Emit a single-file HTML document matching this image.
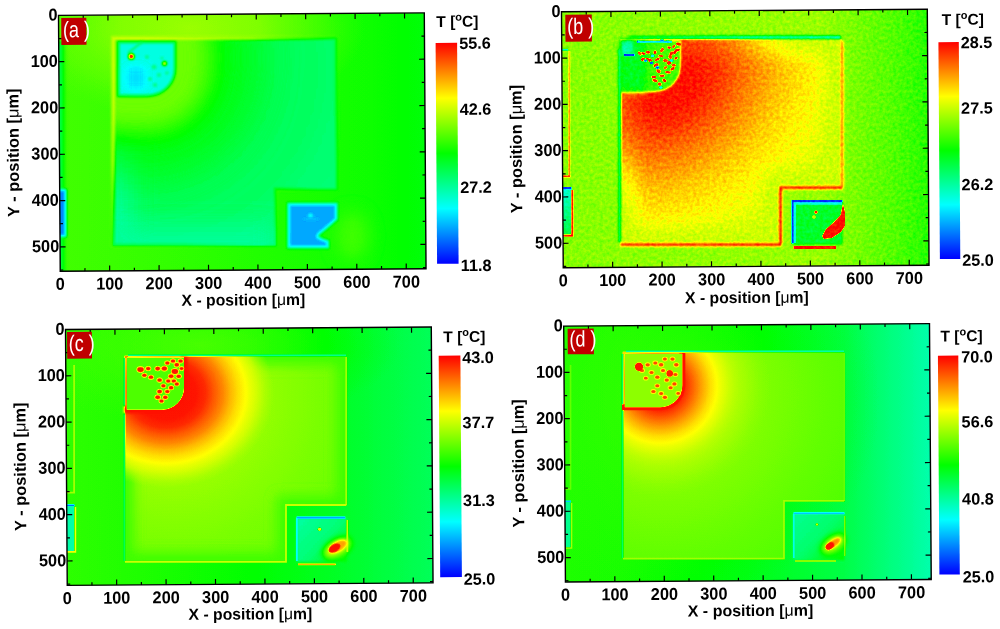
<!DOCTYPE html>
<html><head><meta charset="utf-8"><title>Thermal maps</title><style>
html,body{margin:0;padding:0;background:#fff;}
body{width:1000px;height:629px;overflow:hidden;position:relative;}
svg.main{position:absolute;left:0;top:0;}
.tl{font-family:"Liberation Sans",Arial,sans-serif;font-weight:bold;font-size:17px;fill:#000;}
.at{font-family:"Liberation Sans",Arial,sans-serif;font-weight:bold;font-size:16px;fill:#000;}
.at2{font-family:"Liberation Sans",Arial,sans-serif;font-weight:bold;font-size:16.4px;fill:#000;}
.ct{font-family:"Liberation Sans",Arial,sans-serif;font-weight:bold;font-size:15.6px;fill:#000;}
.sup{font-size:11px;}
.cl{font-family:"Liberation Sans",Arial,sans-serif;font-weight:bold;font-size:16.3px;fill:#000;}
.pl{font-family:"Liberation Sans",Arial,sans-serif;font-weight:normal;font-size:22.5px;fill:#fff;}
</style></head>
<body><svg class="main" width="1000" height="629" viewBox="0 0 1000 629">
<defs><filter id="bl06" filterUnits="userSpaceOnUse" x="0" y="0" width="1000" height="629"><feGaussianBlur stdDeviation="0.6"/></filter>
<filter id="bl08" filterUnits="userSpaceOnUse" x="0" y="0" width="1000" height="629"><feGaussianBlur stdDeviation="0.8"/></filter>
<filter id="bl1" filterUnits="userSpaceOnUse" x="0" y="0" width="1000" height="629"><feGaussianBlur stdDeviation="1.2"/></filter>
<filter id="bl2" filterUnits="userSpaceOnUse" x="0" y="0" width="1000" height="629"><feGaussianBlur stdDeviation="2.2"/></filter>
<filter id="bl3" filterUnits="userSpaceOnUse" x="0" y="0" width="1000" height="629"><feGaussianBlur stdDeviation="3.0"/></filter>
<filter id="bl4" filterUnits="userSpaceOnUse" x="0" y="0" width="1000" height="629"><feGaussianBlur stdDeviation="4.0"/></filter>
<filter id="bl6" filterUnits="userSpaceOnUse" x="0" y="0" width="1000" height="629"><feGaussianBlur stdDeviation="6.0"/></filter>
<filter id="bl8" filterUnits="userSpaceOnUse" x="0" y="0" width="1000" height="629"><feGaussianBlur stdDeviation="8.0"/></filter>
<filter id="bl12" filterUnits="userSpaceOnUse" x="0" y="0" width="1000" height="629"><feGaussianBlur stdDeviation="12.0"/></filter>
<filter id="bl18" filterUnits="userSpaceOnUse" x="0" y="0" width="1000" height="629"><feGaussianBlur stdDeviation="18.0"/></filter>
<filter id="bl25" filterUnits="userSpaceOnUse" x="0" y="0" width="1000" height="629"><feGaussianBlur stdDeviation="25.0"/></filter>
<filter id="cmap" filterUnits="userSpaceOnUse" x="0" y="0" width="1000" height="629" color-interpolation-filters="sRGB"><feComponentTransfer><feFuncR type="table" tableValues="0 0 0 1 1"/><feFuncG type="table" tableValues="0 1 1 1 0"/><feFuncB type="table" tableValues="1 1 0 0 0"/></feComponentTransfer></filter>
<filter id="cmapn" filterUnits="userSpaceOnUse" x="0" y="0" width="1000" height="629" color-interpolation-filters="sRGB"><feTurbulence type="fractalNoise" baseFrequency="0.3" numOctaves="2" seed="5" result="n"/><feColorMatrix in="n" type="matrix" values="1 0 0 0 0 1 0 0 0 0 1 0 0 0 0 0 0 0 0 1" result="ng"/><feComposite in="SourceGraphic" in2="ng" operator="arithmetic" k1="0" k2="1" k3="0.12" k4="-0.06" result="s"/><feComponentTransfer><feFuncR type="table" tableValues="0 0 0 1 1"/><feFuncG type="table" tableValues="0 1 1 1 0"/><feFuncB type="table" tableValues="1 1 0 0 0"/></feComponentTransfer></filter>
<linearGradient id="cbg" x1="0" y1="0" x2="0" y2="1"><stop offset="0.000" stop-color="#ff0000"/><stop offset="0.050" stop-color="#ff3300"/><stop offset="0.100" stop-color="#ff6600"/><stop offset="0.150" stop-color="#ff9900"/><stop offset="0.200" stop-color="#ffcc00"/><stop offset="0.250" stop-color="#ffff00"/><stop offset="0.300" stop-color="#ccff00"/><stop offset="0.350" stop-color="#99ff00"/><stop offset="0.400" stop-color="#66ff00"/><stop offset="0.450" stop-color="#33ff00"/><stop offset="0.500" stop-color="#00ff00"/><stop offset="0.550" stop-color="#00ff33"/><stop offset="0.600" stop-color="#00ff66"/><stop offset="0.650" stop-color="#00ff99"/><stop offset="0.700" stop-color="#00ffcc"/><stop offset="0.750" stop-color="#00ffff"/><stop offset="0.800" stop-color="#00ccff"/><stop offset="0.850" stop-color="#0099ff"/><stop offset="0.900" stop-color="#0066ff"/><stop offset="0.950" stop-color="#0033ff"/><stop offset="1.000" stop-color="#0000ff"/></linearGradient></defs>
<clipPath id="clip_a"><polygon points="58.50,15.40 424.29,12.91 426.03,268.81 60.24,271.29"/></clipPath>
<g clip-path="url(#clip_a)"><g filter="url(#cmap)"><clipPath id="a_clip"><polygon points="113.10,38.00 336.50,38.00 336.50,189.30 275.70,189.30 275.70,245.60 113.10,245.60"/></clipPath>
<linearGradient id="a_bg" gradientUnits="userSpaceOnUse" x1="58" y1="0" x2="426" y2="0"><stop offset="0.000" stop-color="#909090"/><stop offset="0.300" stop-color="#8c8c8c"/><stop offset="0.600" stop-color="#878787"/><stop offset="0.850" stop-color="#838383"/><stop offset="1.000" stop-color="#7d7d7d"/></linearGradient>
<radialGradient id="a_warm" gradientUnits="userSpaceOnUse" cx="0" cy="0" r="1" gradientTransform="translate(190 28) scale(175 92)"><stop offset="0.000" stop-color="#a6a6a6" stop-opacity="1.000"/><stop offset="0.400" stop-color="#a3a3a3" stop-opacity="0.850"/><stop offset="0.750" stop-color="#9e9e9e" stop-opacity="0.400"/><stop offset="1.000" stop-color="#999999" stop-opacity="0.000"/></radialGradient>
<radialGradient id="a_band" gradientUnits="userSpaceOnUse" cx="135" cy="50" r="230"><stop offset="0.000" stop-color="#b5b5b5" stop-opacity="1.000"/><stop offset="0.500" stop-color="#b0b0b0" stop-opacity="0.800"/><stop offset="1.000" stop-color="#9f9f9f" stop-opacity="0.000"/></radialGradient>
<rect x="50" y="5" width="385" height="275" fill="url(#a_bg)"/>
<rect x="50" y="5" width="385" height="275" fill="url(#a_warm)"/>
<radialGradient id="a_in" gradientUnits="userSpaceOnUse" cx="150" cy="70" r="260"><stop offset="0.000" stop-color="#757575"/><stop offset="0.400" stop-color="#6e6e6e"/><stop offset="0.700" stop-color="#656565"/><stop offset="1.000" stop-color="#5e5e5e"/></radialGradient>
<polygon points="113.10,38.00 336.50,38.00 336.50,189.30 275.70,189.30 275.70,245.60 113.10,245.60" fill="url(#a_in)" stroke="#747474" stroke-width="1.5" filter="url(#bl1)"/>
<g clip-path="url(#a_clip)">
<polyline points="113,120 113,245.6 276,245.6" fill="none" stroke="#595959" stroke-width="36" filter="url(#bl12)"/>
<path d="M118.40 42.20H175.00V68.60A27.00 27.00 0 0 1 148.00 95.60H118.40Z" fill="#808080" stroke="#808080" stroke-width="150" stroke-linejoin="round" opacity="0.9" filter="url(#bl25)"/>
<path d="M118.40 42.20H175.00V68.60A27.00 27.00 0 0 1 148.00 95.60H118.40Z" fill="#9f9f9f" stroke="#9f9f9f" stroke-width="70" stroke-linejoin="round" opacity="0.9" filter="url(#bl12)"/>
</g>
<polygon points="113.10,38.00 336.50,38.00 336.50,189.30 275.70,189.30 275.70,245.60 113.10,245.60" fill="none" stroke="url(#a_band)" stroke-width="4" filter="url(#bl1)"/>
<path d="M118.40 42.20H175.00V68.60A27.00 27.00 0 0 1 148.00 95.60H118.40Z" fill="#474747" stroke="#6e6e6e" stroke-width="2.6" filter="url(#bl1)"/>
<rect x="125.5" y="66" width="21" height="23.5" fill="#373737" filter="url(#bl4)"/>
<path d="M128 53 L142 42" stroke="#6b6b6b" stroke-width="2" filter="url(#bl1)"/>
<circle cx="131.3" cy="56.4" r="3.2" fill="#c7c7c7" filter="url(#bl1)"/>
<circle cx="131.3" cy="56.4" r="1.7" fill="#f7f7f7"/>
<circle cx="164.5" cy="63.5" r="2.5" fill="#adadad" filter="url(#bl1)"/>
<circle cx="147.0" cy="57.0" r="2.0" fill="#5e5e5e" filter="url(#bl1)"/>
<circle cx="154.0" cy="67.0" r="2.5" fill="#5e5e5e" filter="url(#bl1)"/>
<circle cx="159.0" cy="75.0" r="2.0" fill="#5e5e5e" filter="url(#bl1)"/>
<circle cx="150.0" cy="79.0" r="2.0" fill="#5e5e5e" filter="url(#bl1)"/>
<circle cx="167.0" cy="73.0" r="1.8" fill="#5e5e5e" filter="url(#bl1)"/>
<circle cx="155.0" cy="85.0" r="2.2" fill="#5e5e5e" filter="url(#bl1)"/>
<circle cx="162.0" cy="58.0" r="1.6" fill="#5e5e5e" filter="url(#bl1)"/>
<ellipse cx="352" cy="236" rx="16" ry="24" fill="#8f8f8f" filter="url(#bl8)"/>
<polygon points="288.60,204.10 336.30,204.10 336.30,218.90 326.00,228.00 318.00,234.50 317.50,237.00 322.00,239.50 327.70,241.50 327.70,247.00 288.60,247.00" fill="#2a2a2a" stroke="#454545" stroke-width="2.6" filter="url(#bl1)"/>
<circle cx="310.5" cy="215.5" r="2.3" fill="#424242" filter="url(#bl1)"/>
<line x1="304" y1="219" x2="318" y2="219" stroke="#363636" stroke-width="1.5" filter="url(#bl1)"/>
<rect x="54" y="42" width="9.5" height="235" fill="#6e6e6e" filter="url(#bl2)"/>
<rect x="55" y="190" width="10.5" height="46" fill="#202020" stroke="#404040" stroke-width="2" filter="url(#bl1)"/></g></g>
<g transform="translate(58.50 15.40) rotate(-0.3896)">
<path d="M24.72 255.90v-3.00M24.72 0v3.00M49.43 255.90v-5.50M49.43 0v5.50M74.15 255.90v-3.00M74.15 0v3.00M98.86 255.90v-5.50M98.86 0v5.50M123.58 255.90v-3.00M123.58 0v3.00M148.30 255.90v-5.50M148.30 0v5.50M173.01 255.90v-3.00M173.01 0v3.00M197.73 255.90v-5.50M197.73 0v5.50M222.45 255.90v-3.00M222.45 0v3.00M247.16 255.90v-5.50M247.16 0v5.50M271.88 255.90v-3.00M271.88 0v3.00M296.59 255.90v-5.50M296.59 0v5.50M321.31 255.90v-3.00M321.31 0v3.00M346.03 255.90v-5.50M346.03 0v5.50M0 23.15h3.00M365.80 23.15h-3.00M0 46.30h5.50M365.80 46.30h-5.50M0 69.45h3.00M365.80 69.45h-3.00M0 92.60h5.50M365.80 92.60h-5.50M0 115.75h3.00M365.80 115.75h-3.00M0 138.90h5.50M365.80 138.90h-5.50M0 162.05h3.00M365.80 162.05h-3.00M0 185.20h5.50M365.80 185.20h-5.50M0 208.35h3.00M365.80 208.35h-3.00M0 231.50h5.50M365.80 231.50h-5.50M0 254.65h3.00M365.80 254.65h-3.00" stroke="#000" stroke-width="1.2" fill="none"/>
<rect x="0" y="0" width="365.80" height="255.90" fill="none" stroke="#000" stroke-width="1.4"/>
<text transform="translate(0.00 274.40) scale(0.96 1)" text-anchor="middle" class="tl">0</text>
<text transform="translate(49.43 274.40) scale(0.96 1)" text-anchor="middle" class="tl">100</text>
<text transform="translate(98.86 274.40) scale(0.96 1)" text-anchor="middle" class="tl">200</text>
<text transform="translate(148.30 274.40) scale(0.96 1)" text-anchor="middle" class="tl">300</text>
<text transform="translate(197.73 274.40) scale(0.96 1)" text-anchor="middle" class="tl">400</text>
<text transform="translate(247.16 274.40) scale(0.96 1)" text-anchor="middle" class="tl">500</text>
<text transform="translate(296.59 274.40) scale(0.96 1)" text-anchor="middle" class="tl">600</text>
<text transform="translate(346.03 274.40) scale(0.96 1)" text-anchor="middle" class="tl">700</text>
<text transform="translate(-0.90 5.10) scale(0.96 1)" text-anchor="end" class="tl">0</text>
<text transform="translate(-0.90 51.40) scale(0.96 1)" text-anchor="end" class="tl">100</text>
<text transform="translate(-0.90 97.70) scale(0.96 1)" text-anchor="end" class="tl">200</text>
<text transform="translate(-0.90 144.00) scale(0.96 1)" text-anchor="end" class="tl">300</text>
<text transform="translate(-0.90 190.30) scale(0.96 1)" text-anchor="end" class="tl">400</text>
<text transform="translate(-0.90 236.60) scale(0.96 1)" text-anchor="end" class="tl">500</text>
<text transform="translate(182.90 291.20) scale(0.985 1)" text-anchor="middle" class="at">X - position [<tspan font-weight="normal">μ</tspan>m]</text>
<text transform="translate(-40.70 137.00) rotate(-90)" text-anchor="middle" class="at2">Y - position [<tspan font-weight="normal">μ</tspan>m]</text>
<rect x="376.90" y="30.10" width="21.50" height="220.90" fill="url(#cbg)"/>
<text x="377.70" y="14.10" class="ct">T [<tspan class="sup" dy="-6">o</tspan><tspan dy="6">C]</tspan></text>
<text x="400.50" y="36.25" class="cl">55.6</text>
<text x="400.50" y="102.25" class="cl">42.6</text>
<text x="400.50" y="180.25" class="cl">27.2</text>
<text x="400.50" y="258.45" class="cl">11.8</text>
<rect x="2.70" y="2.60" width="25.10" height="27.00" fill="#c00000"/>
<text x="0.00" y="21.90" class="pl" transform="translate(4.40 0) scale(0.8 1) translate(0.00 0)">(a )</text>
</g>
<clipPath id="clip_b"><polygon points="561.50,11.80 927.29,9.31 929.03,265.21 563.24,267.69"/></clipPath>
<g clip-path="url(#clip_b)"><g filter="url(#cmapn)"><linearGradient id="b_bg" gradientUnits="userSpaceOnUse" x1="561" y1="0" x2="930" y2="0"><stop offset="0.000" stop-color="#a1a1a1"/><stop offset="0.700" stop-color="#a6a6a6"/><stop offset="0.780" stop-color="#9f9f9f"/><stop offset="0.900" stop-color="#949494"/><stop offset="1.000" stop-color="#888888"/></linearGradient>
<radialGradient id="b_hot" gradientUnits="userSpaceOnUse" cx="0" cy="0" r="1" gradientTransform="translate(670 84) rotate(-40) scale(220 165)"><stop offset="0.000" stop-color="#fcfcfc"/><stop offset="0.140" stop-color="#fafafa"/><stop offset="0.240" stop-color="#f2f2f2"/><stop offset="0.340" stop-color="#e6e6e6"/><stop offset="0.460" stop-color="#d9d9d9"/><stop offset="0.580" stop-color="#cdcdcd"/><stop offset="0.720" stop-color="#c3c3c3"/><stop offset="0.880" stop-color="#bbbbbb"/><stop offset="1.000" stop-color="#b5b5b5"/></radialGradient>
<rect x="555" y="5" width="380" height="270" fill="url(#b_bg)"/>
<clipPath id="b_clip"><polygon points="620.50,39.00 842.00,39.00 842.00,187.70 780.50,187.70 780.50,244.50 620.50,244.50"/></clipPath>
<polygon points="620.50,39.00 842.00,39.00 842.00,187.70 780.50,187.70 780.50,244.50 620.50,244.50" fill="url(#b_hot)"/>
<radialGradient id="b_cool" gradientUnits="userSpaceOnUse" cx="672" cy="85" r="170"><stop offset="0.000" stop-color="#b0b0b0" stop-opacity="0.000"/><stop offset="0.450" stop-color="#b0b0b0" stop-opacity="0.150"/><stop offset="0.750" stop-color="#b0b0b0" stop-opacity="0.800"/><stop offset="1.000" stop-color="#b2b2b2" stop-opacity="1.000"/></radialGradient>
<g clip-path="url(#b_clip)">
<polygon points="620.50,39.00 842.00,39.00 842.00,187.70 780.50,187.70 780.50,244.50 620.50,244.50" fill="none" stroke="url(#b_cool)" stroke-width="34" filter="url(#bl8)"/>
</g>
<path d="M620.80 40.80H680.50V65.80A26.00 26.00 0 0 1 654.50 91.80H620.80Z" fill="#8f8f8f" filter="url(#bl1)"/>
<rect x="621" y="41" width="25" height="50" fill="#787878" filter="url(#bl3)"/>
<ellipse cx="643.2" cy="53.5" rx="2.2" ry="1.3" transform="rotate(18 643.2 53.5)" fill="#fcfcfc"/>
<ellipse cx="647.9" cy="59.4" rx="2.8" ry="1.3" transform="rotate(10 647.9 59.4)" fill="#fafafa"/>
<ellipse cx="655.0" cy="52.3" rx="1.8" ry="1.5" transform="rotate(-52 655.0 52.3)" fill="#fcfcfc"/>
<ellipse cx="660.8" cy="55.9" rx="2.5" ry="1.2" transform="rotate(8 660.8 55.9)" fill="#fafafa"/>
<ellipse cx="662.0" cy="50.0" rx="2.6" ry="1.7" transform="rotate(-53 662.0 50.0)" fill="#f2f2f2"/>
<ellipse cx="669.1" cy="47.6" rx="1.9" ry="1.4" transform="rotate(7 669.1 47.6)" fill="#fafafa"/>
<ellipse cx="673.8" cy="46.5" rx="2.1" ry="1.3" transform="rotate(-46 673.8 46.5)" fill="#f7f7f7"/>
<ellipse cx="671.4" cy="53.5" rx="2.5" ry="1.7" transform="rotate(-48 671.4 53.5)" fill="#fafafa"/>
<ellipse cx="674.9" cy="52.3" rx="2.2" ry="1.6" transform="rotate(-52 674.9 52.3)" fill="#fcfcfc"/>
<ellipse cx="665.5" cy="60.6" rx="2.5" ry="1.6" transform="rotate(4 665.5 60.6)" fill="#f7f7f7"/>
<ellipse cx="669.1" cy="62.9" rx="2.4" ry="1.9" transform="rotate(-17 669.1 62.9)" fill="#fafafa"/>
<ellipse cx="656.1" cy="65.3" rx="2.8" ry="1.8" transform="rotate(-31 656.1 65.3)" fill="#f7f7f7"/>
<ellipse cx="658.5" cy="71.1" rx="2.4" ry="1.9" transform="rotate(28 658.5 71.1)" fill="#f7f7f7"/>
<ellipse cx="653.8" cy="77.0" rx="2.5" ry="1.3" transform="rotate(1 653.8 77.0)" fill="#fafafa"/>
<ellipse cx="662.0" cy="75.8" rx="2.7" ry="1.3" transform="rotate(-1 662.0 75.8)" fill="#fcfcfc"/>
<ellipse cx="667.9" cy="72.3" rx="3.0" ry="1.3" transform="rotate(7 667.9 72.3)" fill="#f7f7f7"/>
<ellipse cx="673.8" cy="65.3" rx="2.2" ry="1.5" transform="rotate(-0 673.8 65.3)" fill="#f2f2f2"/>
<ellipse cx="676.1" cy="58.2" rx="1.9" ry="1.3" transform="rotate(-28 676.1 58.2)" fill="#fcfcfc"/>
<ellipse cx="659.7" cy="84.1" rx="1.9" ry="1.8" transform="rotate(18 659.7 84.1)" fill="#f2f2f2"/>
<ellipse cx="664.4" cy="80.5" rx="2.1" ry="1.5" transform="rotate(20 664.4 80.5)" fill="#fcfcfc"/>
<ellipse cx="655.0" cy="80.5" rx="2.9" ry="1.5" transform="rotate(13 655.0 80.5)" fill="#f2f2f2"/>
<ellipse cx="650.3" cy="60.6" rx="1.9" ry="1.8" transform="rotate(-44 650.3 60.6)" fill="#fafafa"/>
<ellipse cx="643.2" cy="59.4" rx="2.3" ry="1.9" transform="rotate(-0 643.2 59.4)" fill="#fafafa"/>
<ellipse cx="639.7" cy="53.5" rx="2.3" ry="1.6" transform="rotate(46 639.7 53.5)" fill="#f2f2f2"/>
<ellipse cx="677.3" cy="50.0" rx="2.8" ry="1.4" transform="rotate(-10 677.3 50.0)" fill="#f7f7f7"/>
<ellipse cx="672.6" cy="68.8" rx="2.6" ry="1.5" transform="rotate(-32 672.6 68.8)" fill="#fcfcfc"/>
<ellipse cx="665.5" cy="67.6" rx="2.0" ry="1.4" transform="rotate(-32 665.5 67.6)" fill="#f2f2f2"/>
<ellipse cx="657.3" cy="59.4" rx="2.8" ry="1.3" transform="rotate(-26 657.3 59.4)" fill="#fafafa"/>
<ellipse cx="647.9" cy="52.3" rx="2.3" ry="1.5" transform="rotate(8 647.9 52.3)" fill="#fafafa"/>
<ellipse cx="678.5" cy="44.1" rx="2.6" ry="1.6" transform="rotate(14 678.5 44.1)" fill="#fcfcfc"/>
<ellipse cx="670.2" cy="57.0" rx="2.3" ry="1.9" transform="rotate(54 670.2 57.0)" fill="#f2f2f2"/>
<ellipse cx="638.5" cy="41.8" rx="1.9" ry="1.3" fill="#0f0f0f"/>
<ellipse cx="662.0" cy="40.6" rx="1.9" ry="1.3" fill="#0d0d0d"/>
<ellipse cx="667.9" cy="41.8" rx="1.9" ry="1.3" fill="#1a1a1a"/>
<ellipse cx="657.3" cy="67.6" rx="1.9" ry="1.3" fill="#141414"/>
<ellipse cx="651.4" cy="62.9" rx="1.9" ry="1.3" fill="#1a1a1a"/>
<ellipse cx="645.6" cy="60.6" rx="1.9" ry="1.3" fill="#262626"/>
<ellipse cx="660.8" cy="87.6" rx="1.9" ry="1.3" fill="#474747"/>
<ellipse cx="671.4" cy="60.6" rx="1.9" ry="1.3" fill="#333333"/>
<ellipse cx="652.6" cy="55.9" rx="1.9" ry="1.3" fill="#404040"/>
<line x1="638" y1="41.8" x2="672" y2="41.8" stroke="#383838" stroke-width="2"/>
<rect x="621" y="40.5" width="12" height="14" fill="#545454" filter="url(#bl2)"/>
<line x1="624" y1="55" x2="634.5" y2="55" stroke="#0f0f0f" stroke-width="2.2"/>
<linearGradient id="b_top" gradientUnits="userSpaceOnUse" x1="629" y1="0" x2="841" y2="0"><stop offset="0.000" stop-color="#737373"/><stop offset="0.500" stop-color="#525252"/><stop offset="1.000" stop-color="#454545"/></linearGradient>
<g filter="url(#bl08)">
<line x1="629" y1="37.3" x2="841" y2="37.3" stroke="url(#b_top)" stroke-width="3"/>
<line x1="619.7" y1="49" x2="619.7" y2="242.5" stroke="#5c5c5c" stroke-width="2.4"/>
<line x1="842.3" y1="41.5" x2="842.3" y2="188" stroke="#e0e0e0" stroke-width="2.8"/>
<line x1="620.5" y1="244.7" x2="781" y2="244.7" stroke="#ffffff" stroke-width="3"/>
<polyline points="842.5,187.7 780.6,187.7 780.6,244.7" fill="none" stroke="#ffffff" stroke-width="3"/>
</g>
<rect x="792.5" y="201.5" width="50" height="43" fill="#757575" filter="url(#bl1)"/>
<polyline points="794.5,243 794.5,203.3 842,203.3" fill="none" stroke="#4a4a4a" stroke-width="3" filter="url(#bl06)"/>
<polyline points="792.6,243.6 792.6,201.2 842.5,201.2" fill="none" stroke="#0d0d0d" stroke-width="2.2" filter="url(#bl06)"/>
<polygon points="822,236 826,229 834,222 840.5,215 843,204 845,212 845,226 841,232 832,238 824,239" fill="#fbfbfb" filter="url(#bl06)"/>
<line x1="793.5" y1="247.5" x2="836" y2="247.5" stroke="#fbfbfb" stroke-width="3" filter="url(#bl06)"/>
<circle cx="816" cy="212.2" r="1.6" fill="#f7f7f7"/>
<circle cx="814" cy="217" r="2" fill="#b2b2b2" filter="url(#bl06)"/>
<linearGradient id="b_ls" gradientUnits="userSpaceOnUse" x1="0" y1="50" x2="0" y2="176"><stop offset="0.000" stop-color="#c7c7c7"/><stop offset="0.300" stop-color="#d4d4d4"/><stop offset="1.000" stop-color="#e0e0e0"/></linearGradient>
<linearGradient id="b_lsi" gradientUnits="userSpaceOnUse" x1="0" y1="190" x2="0" y2="235"><stop offset="0.000" stop-color="#4c4c4c"/><stop offset="1.000" stop-color="#707070"/></linearGradient>
<rect x="562" y="189" width="10" height="46.5" fill="url(#b_lsi)" filter="url(#bl06)"/>
<g filter="url(#bl06)">
<line x1="569.3" y1="51" x2="569.3" y2="176.5" stroke="url(#b_ls)" stroke-width="2"/>
<line x1="562" y1="176.3" x2="570.3" y2="176.3" stroke="#f2f2f2" stroke-width="2"/>
<line x1="562" y1="49.8" x2="568" y2="49.8" stroke="#4f4f4f" stroke-width="1.8"/>
<line x1="562" y1="188.1" x2="571.5" y2="188.1" stroke="#0d0d0d" stroke-width="2.2"/>
<polyline points="572.3,190 572.3,235.7 562,235.7" fill="none" stroke="#f9f9f9" stroke-width="2.2"/>
</g></g></g>
<g transform="translate(561.50 11.80) rotate(-0.3896)">
<path d="M24.72 255.90v-3.00M24.72 0v3.00M49.43 255.90v-5.50M49.43 0v5.50M74.15 255.90v-3.00M74.15 0v3.00M98.86 255.90v-5.50M98.86 0v5.50M123.58 255.90v-3.00M123.58 0v3.00M148.30 255.90v-5.50M148.30 0v5.50M173.01 255.90v-3.00M173.01 0v3.00M197.73 255.90v-5.50M197.73 0v5.50M222.45 255.90v-3.00M222.45 0v3.00M247.16 255.90v-5.50M247.16 0v5.50M271.88 255.90v-3.00M271.88 0v3.00M296.59 255.90v-5.50M296.59 0v5.50M321.31 255.90v-3.00M321.31 0v3.00M346.03 255.90v-5.50M346.03 0v5.50M0 23.15h3.00M365.80 23.15h-3.00M0 46.30h5.50M365.80 46.30h-5.50M0 69.45h3.00M365.80 69.45h-3.00M0 92.60h5.50M365.80 92.60h-5.50M0 115.75h3.00M365.80 115.75h-3.00M0 138.90h5.50M365.80 138.90h-5.50M0 162.05h3.00M365.80 162.05h-3.00M0 185.20h5.50M365.80 185.20h-5.50M0 208.35h3.00M365.80 208.35h-3.00M0 231.50h5.50M365.80 231.50h-5.50M0 254.65h3.00M365.80 254.65h-3.00" stroke="#000" stroke-width="1.2" fill="none"/>
<rect x="0" y="0" width="365.80" height="255.90" fill="none" stroke="#000" stroke-width="1.4"/>
<text transform="translate(0.00 274.40) scale(0.96 1)" text-anchor="middle" class="tl">0</text>
<text transform="translate(49.43 274.40) scale(0.96 1)" text-anchor="middle" class="tl">100</text>
<text transform="translate(98.86 274.40) scale(0.96 1)" text-anchor="middle" class="tl">200</text>
<text transform="translate(148.30 274.40) scale(0.96 1)" text-anchor="middle" class="tl">300</text>
<text transform="translate(197.73 274.40) scale(0.96 1)" text-anchor="middle" class="tl">400</text>
<text transform="translate(247.16 274.40) scale(0.96 1)" text-anchor="middle" class="tl">500</text>
<text transform="translate(296.59 274.40) scale(0.96 1)" text-anchor="middle" class="tl">600</text>
<text transform="translate(346.03 274.40) scale(0.96 1)" text-anchor="middle" class="tl">700</text>
<text transform="translate(-0.90 5.10) scale(0.96 1)" text-anchor="end" class="tl">0</text>
<text transform="translate(-0.90 51.40) scale(0.96 1)" text-anchor="end" class="tl">100</text>
<text transform="translate(-0.90 97.70) scale(0.96 1)" text-anchor="end" class="tl">200</text>
<text transform="translate(-0.90 144.00) scale(0.96 1)" text-anchor="end" class="tl">300</text>
<text transform="translate(-0.90 190.30) scale(0.96 1)" text-anchor="end" class="tl">400</text>
<text transform="translate(-0.90 236.60) scale(0.96 1)" text-anchor="end" class="tl">500</text>
<text transform="translate(183.40 292.40) scale(0.985 1)" text-anchor="middle" class="at">X - position [<tspan font-weight="normal">μ</tspan>m]</text>
<text transform="translate(-40.70 137.00) rotate(-90)" text-anchor="middle" class="at2">Y - position [<tspan font-weight="normal">μ</tspan>m]</text>
<rect x="376.70" y="33.00" width="20.40" height="216.80" fill="url(#cbg)"/>
<text x="380.10" y="15.80" class="ct">T [<tspan class="sup" dy="-6">o</tspan><tspan dy="6">C]</tspan></text>
<text x="398.90" y="39.05" class="cl">28.5</text>
<text x="398.90" y="104.65" class="cl">27.5</text>
<text x="398.90" y="181.15" class="cl">26.2</text>
<text x="398.90" y="256.75" class="cl">25.0</text>
<rect x="3.80" y="2.90" width="26.40" height="27.00" fill="#c00000"/>
<text x="0.00" y="22.20" class="pl" transform="translate(5.50 0) scale(0.8 1) translate(0.00 0)">(b )</text>
</g>
<clipPath id="clip_c"><polygon points="65.50,329.50 431.29,327.01 433.03,582.91 67.24,585.39"/></clipPath>
<g clip-path="url(#clip_c)"><g filter="url(#cmap)"><linearGradient id="c_bg" gradientUnits="userSpaceOnUse" x1="65" y1="0" x2="434" y2="0"><stop offset="0.000" stop-color="#8b8b8b"/><stop offset="0.160" stop-color="#888888"/><stop offset="0.500" stop-color="#808080"/><stop offset="0.760" stop-color="#757575"/><stop offset="0.860" stop-color="#707070"/><stop offset="1.000" stop-color="#696969"/></linearGradient>
<rect x="60" y="320" width="380" height="270" fill="url(#c_bg)"/>
<radialGradient id="c_wo" gradientUnits="userSpaceOnUse" cx="0" cy="0" r="1" gradientTransform="translate(200 345) scale(200 80)"><stop offset="0.000" stop-color="#959595" stop-opacity="0.800"/><stop offset="1.000" stop-color="#919191" stop-opacity="0.000"/></radialGradient>
<rect x="60" y="320" width="380" height="270" fill="url(#c_wo)"/>
<clipPath id="c_clip"><polygon points="124.50,355.70 346.00,355.70 346.00,505.20 286.00,505.20 286.00,561.60 124.50,561.60"/></clipPath>
<radialGradient id="c_in" gradientUnits="userSpaceOnUse" cx="175" cy="400" r="260"><stop offset="0.000" stop-color="#acacac"/><stop offset="0.300" stop-color="#a6a6a6"/><stop offset="0.550" stop-color="#9e9e9e"/><stop offset="0.800" stop-color="#999999"/><stop offset="1.000" stop-color="#959595"/></radialGradient>
<polygon points="124.50,355.70 346.00,355.70 346.00,505.20 286.00,505.20 286.00,561.60 124.50,561.60" fill="url(#c_in)" filter="url(#bl06)"/>
<g clip-path="url(#c_clip)">
<polygon points="124.50,355.70 346.00,355.70 346.00,505.20 286.00,505.20 286.00,561.60 124.50,561.60" fill="none" stroke="#8f8f8f" stroke-width="18" filter="url(#bl6)"/>
<radialGradient id="c_hot" gradientUnits="userSpaceOnUse" cx="0" cy="0" r="1" gradientTransform="translate(166 393) scale(108 95)"><stop offset="0.000" stop-color="#fcfcfc" stop-opacity="1.000"/><stop offset="0.280" stop-color="#fafafa" stop-opacity="1.000"/><stop offset="0.370" stop-color="#f4f4f4" stop-opacity="1.000"/><stop offset="0.450" stop-color="#e8e8e8" stop-opacity="1.000"/><stop offset="0.530" stop-color="#dddddd" stop-opacity="1.000"/><stop offset="0.600" stop-color="#d1d1d1" stop-opacity="1.000"/><stop offset="0.670" stop-color="#c7c7c7" stop-opacity="1.000"/><stop offset="0.750" stop-color="#bebebe" stop-opacity="1.000"/><stop offset="0.850" stop-color="#b5b5b5" stop-opacity="0.850"/><stop offset="1.000" stop-color="#acacac" stop-opacity="0.000"/></radialGradient>
<ellipse cx="166" cy="393" rx="108" ry="95" fill="url(#c_hot)"/>
</g>
<g filter="url(#bl06)" fill="none" stroke-width="1.8">
<line x1="128" y1="355.3" x2="346" y2="355.3" stroke="#5c5c5c"/>
<line x1="124.3" y1="358" x2="124.3" y2="561" stroke="#6b6b6b"/>
<line x1="346.2" y1="357" x2="346.2" y2="505" stroke="#a8a8a8"/>
<polyline points="125,561.8 286,561.8 286,505 346.5,505" stroke="#b2b2b2"/>
</g>
<path d="M124 409.7H162A22 22 0 0 0 184 387.7V357" fill="none" stroke="#fbfbfb" stroke-width="7" filter="url(#bl1)"/>
<path d="M126.80 357.60H184.00V387.70A22.00 22.00 0 0 1 162.00 409.70H126.80Z" fill="#939393" filter="url(#bl06)"/>
<ellipse cx="140.5" cy="369.6" rx="4.0" ry="3.3" fill="#cccccc" filter="url(#bl06)"/>
<ellipse cx="140.5" cy="369.6" rx="3.1" ry="2.4" fill="#fafafa"/>
<ellipse cx="148.2" cy="368.6" rx="3.0" ry="2.5" fill="#cccccc" filter="url(#bl06)"/>
<ellipse cx="148.2" cy="368.6" rx="2.1" ry="1.6" fill="#fafafa"/>
<ellipse cx="144.4" cy="375.3" rx="2.9" ry="2.4" fill="#cccccc" filter="url(#bl06)"/>
<ellipse cx="144.4" cy="375.3" rx="2.0" ry="1.5" fill="#fafafa"/>
<ellipse cx="151.0" cy="377.2" rx="3.0" ry="2.5" fill="#cccccc" filter="url(#bl06)"/>
<ellipse cx="151.0" cy="377.2" rx="2.1" ry="1.6" fill="#fafafa"/>
<ellipse cx="157.7" cy="368.6" rx="3.2" ry="2.7" fill="#cccccc" filter="url(#bl06)"/>
<ellipse cx="157.7" cy="368.6" rx="2.3" ry="1.8" fill="#fafafa"/>
<ellipse cx="159.6" cy="380.1" rx="3.1" ry="2.6" fill="#cccccc" filter="url(#bl06)"/>
<ellipse cx="159.6" cy="380.1" rx="2.2" ry="1.7" fill="#fafafa"/>
<ellipse cx="164.4" cy="368.6" rx="3.5" ry="2.9" fill="#cccccc" filter="url(#bl06)"/>
<ellipse cx="164.4" cy="368.6" rx="2.6" ry="2.0" fill="#fafafa"/>
<ellipse cx="167.3" cy="362.9" rx="2.9" ry="2.4" fill="#cccccc" filter="url(#bl06)"/>
<ellipse cx="167.3" cy="362.9" rx="2.0" ry="1.5" fill="#fafafa"/>
<ellipse cx="173.0" cy="361.0" rx="3.0" ry="2.5" fill="#cccccc" filter="url(#bl06)"/>
<ellipse cx="173.0" cy="361.0" rx="2.1" ry="1.6" fill="#fafafa"/>
<ellipse cx="176.8" cy="364.8" rx="3.1" ry="2.6" fill="#cccccc" filter="url(#bl06)"/>
<ellipse cx="176.8" cy="364.8" rx="2.2" ry="1.7" fill="#fafafa"/>
<ellipse cx="180.6" cy="361.0" rx="3.0" ry="2.5" fill="#cccccc" filter="url(#bl06)"/>
<ellipse cx="180.6" cy="361.0" rx="2.1" ry="1.6" fill="#fafafa"/>
<ellipse cx="174.9" cy="371.5" rx="4.0" ry="3.3" fill="#cccccc" filter="url(#bl06)"/>
<ellipse cx="174.9" cy="371.5" rx="3.1" ry="2.4" fill="#fafafa"/>
<ellipse cx="171.1" cy="376.3" rx="3.2" ry="2.7" fill="#cccccc" filter="url(#bl06)"/>
<ellipse cx="171.1" cy="376.3" rx="2.3" ry="1.8" fill="#fafafa"/>
<ellipse cx="168.2" cy="381.0" rx="2.9" ry="2.4" fill="#cccccc" filter="url(#bl06)"/>
<ellipse cx="168.2" cy="381.0" rx="2.0" ry="1.5" fill="#fafafa"/>
<ellipse cx="173.9" cy="381.0" rx="3.0" ry="2.5" fill="#cccccc" filter="url(#bl06)"/>
<ellipse cx="173.9" cy="381.0" rx="2.1" ry="1.6" fill="#fafafa"/>
<ellipse cx="176.8" cy="383.9" rx="2.9" ry="2.4" fill="#cccccc" filter="url(#bl06)"/>
<ellipse cx="176.8" cy="383.9" rx="2.0" ry="1.5" fill="#fafafa"/>
<ellipse cx="163.4" cy="385.8" rx="2.9" ry="2.4" fill="#cccccc" filter="url(#bl06)"/>
<ellipse cx="163.4" cy="385.8" rx="2.0" ry="1.5" fill="#fafafa"/>
<ellipse cx="159.6" cy="391.5" rx="3.1" ry="2.6" fill="#cccccc" filter="url(#bl06)"/>
<ellipse cx="159.6" cy="391.5" rx="2.2" ry="1.7" fill="#fafafa"/>
<ellipse cx="157.7" cy="397.3" rx="3.2" ry="2.7" fill="#cccccc" filter="url(#bl06)"/>
<ellipse cx="157.7" cy="397.3" rx="2.3" ry="1.8" fill="#fafafa"/>
<ellipse cx="165.3" cy="397.3" rx="3.0" ry="2.5" fill="#cccccc" filter="url(#bl06)"/>
<ellipse cx="165.3" cy="397.3" rx="2.1" ry="1.6" fill="#fafafa"/>
<ellipse cx="167.3" cy="391.5" rx="2.9" ry="2.4" fill="#cccccc" filter="url(#bl06)"/>
<ellipse cx="167.3" cy="391.5" rx="2.0" ry="1.5" fill="#fafafa"/>
<ellipse cx="171.1" cy="387.7" rx="3.0" ry="2.5" fill="#cccccc" filter="url(#bl06)"/>
<ellipse cx="171.1" cy="387.7" rx="2.1" ry="1.6" fill="#fafafa"/>
<ellipse cx="161.5" cy="401.1" rx="2.9" ry="2.4" fill="#cccccc" filter="url(#bl06)"/>
<ellipse cx="161.5" cy="401.1" rx="2.0" ry="1.5" fill="#fafafa"/>
<ellipse cx="178.7" cy="376.3" rx="3.0" ry="2.5" fill="#cccccc" filter="url(#bl06)"/>
<ellipse cx="178.7" cy="376.3" rx="2.1" ry="1.6" fill="#fafafa"/>
<ellipse cx="181.6" cy="368.6" rx="2.7" ry="2.3" fill="#cccccc" filter="url(#bl06)"/>
<ellipse cx="181.6" cy="368.6" rx="1.8" ry="1.4" fill="#fafafa"/>
<linearGradient id="c_pad" gradientUnits="userSpaceOnUse" x1="302" y1="522" x2="345" y2="562"><stop offset="0.000" stop-color="#595959"/><stop offset="0.500" stop-color="#636363"/><stop offset="1.000" stop-color="#808080"/></linearGradient>
<rect x="296.6" y="517.7" width="50" height="44" fill="url(#c_pad)" filter="url(#bl1)"/>
<line x1="296.6" y1="517.7" x2="345.3" y2="517.7" stroke="#292929" stroke-width="2.2" filter="url(#bl06)"/>
<line x1="296.9" y1="518" x2="296.9" y2="561" stroke="#404040" stroke-width="1.8" filter="url(#bl06)"/>
<line x1="347.3" y1="520" x2="347.3" y2="552" stroke="#b2b2b2" stroke-width="1.8" filter="url(#bl06)"/>
<ellipse cx="337" cy="548" rx="15" ry="8" transform="rotate(-30 337 548)" fill="#b2b2b2" filter="url(#bl3)"/>
<ellipse cx="338" cy="546.5" rx="10" ry="5" transform="rotate(-30 338 546.5)" fill="#d6d6d6" filter="url(#bl1)"/>
<ellipse cx="334.5" cy="548.1" rx="6.5" ry="3.8" transform="rotate(-30 334.5 548.1)" fill="#fbfbfb" filter="url(#bl06)"/>
<line x1="298" y1="564.3" x2="335.8" y2="564.3" stroke="#d1d1d1" stroke-width="1.8" filter="url(#bl06)"/>
<circle cx="319.6" cy="529.2" r="1.8" fill="#b8b8b8" filter="url(#bl06)"/>
<rect x="66" y="507" width="9" height="45" fill="#545454" filter="url(#bl06)"/>
<g filter="url(#bl06)" fill="none" stroke-width="1.8">
<polyline points="74.1,365 74.1,492.7 67,492.7" stroke="#a8a8a8"/>
<line x1="66" y1="505.4" x2="74.5" y2="505.4" stroke="#1a1a1a" stroke-width="2.2"/>
<polyline points="75.3,507 75.3,551.8 66,551.8" stroke="#bdbdbd"/>
</g></g></g>
<g transform="translate(65.50 329.50) rotate(-0.3896)">
<path d="M24.72 255.90v-3.00M24.72 0v3.00M49.43 255.90v-5.50M49.43 0v5.50M74.15 255.90v-3.00M74.15 0v3.00M98.86 255.90v-5.50M98.86 0v5.50M123.58 255.90v-3.00M123.58 0v3.00M148.30 255.90v-5.50M148.30 0v5.50M173.01 255.90v-3.00M173.01 0v3.00M197.73 255.90v-5.50M197.73 0v5.50M222.45 255.90v-3.00M222.45 0v3.00M247.16 255.90v-5.50M247.16 0v5.50M271.88 255.90v-3.00M271.88 0v3.00M296.59 255.90v-5.50M296.59 0v5.50M321.31 255.90v-3.00M321.31 0v3.00M346.03 255.90v-5.50M346.03 0v5.50M0 23.15h3.00M365.80 23.15h-3.00M0 46.30h5.50M365.80 46.30h-5.50M0 69.45h3.00M365.80 69.45h-3.00M0 92.60h5.50M365.80 92.60h-5.50M0 115.75h3.00M365.80 115.75h-3.00M0 138.90h5.50M365.80 138.90h-5.50M0 162.05h3.00M365.80 162.05h-3.00M0 185.20h5.50M365.80 185.20h-5.50M0 208.35h3.00M365.80 208.35h-3.00M0 231.50h5.50M365.80 231.50h-5.50M0 254.65h3.00M365.80 254.65h-3.00" stroke="#000" stroke-width="1.2" fill="none"/>
<rect x="0" y="0" width="365.80" height="255.90" fill="none" stroke="#000" stroke-width="1.4"/>
<text transform="translate(0.00 274.40) scale(0.96 1)" text-anchor="middle" class="tl">0</text>
<text transform="translate(49.43 274.40) scale(0.96 1)" text-anchor="middle" class="tl">100</text>
<text transform="translate(98.86 274.40) scale(0.96 1)" text-anchor="middle" class="tl">200</text>
<text transform="translate(148.30 274.40) scale(0.96 1)" text-anchor="middle" class="tl">300</text>
<text transform="translate(197.73 274.40) scale(0.96 1)" text-anchor="middle" class="tl">400</text>
<text transform="translate(247.16 274.40) scale(0.96 1)" text-anchor="middle" class="tl">500</text>
<text transform="translate(296.59 274.40) scale(0.96 1)" text-anchor="middle" class="tl">600</text>
<text transform="translate(346.03 274.40) scale(0.96 1)" text-anchor="middle" class="tl">700</text>
<text transform="translate(-0.90 5.10) scale(0.96 1)" text-anchor="end" class="tl">0</text>
<text transform="translate(-0.90 51.40) scale(0.96 1)" text-anchor="end" class="tl">100</text>
<text transform="translate(-0.90 97.70) scale(0.96 1)" text-anchor="end" class="tl">200</text>
<text transform="translate(-0.90 144.00) scale(0.96 1)" text-anchor="end" class="tl">300</text>
<text transform="translate(-0.90 190.30) scale(0.96 1)" text-anchor="end" class="tl">400</text>
<text transform="translate(-0.90 236.60) scale(0.96 1)" text-anchor="end" class="tl">500</text>
<text transform="translate(182.90 291.20) scale(0.985 1)" text-anchor="middle" class="at">X - position [<tspan font-weight="normal">μ</tspan>m]</text>
<text transform="translate(-40.70 137.00) rotate(-90)" text-anchor="middle" class="at2">Y - position [<tspan font-weight="normal">μ</tspan>m]</text>
<rect x="373.00" y="28.80" width="21.70" height="221.50" fill="url(#cbg)"/>
<text x="377.70" y="15.30" class="ct">T [<tspan class="sup" dy="-6">o</tspan><tspan dy="6">C]</tspan></text>
<text x="396.40" y="36.35" class="cl">43.0</text>
<text x="396.40" y="101.35" class="cl">37.7</text>
<text x="396.40" y="179.25" class="cl">31.3</text>
<text x="396.40" y="257.95" class="cl">25.0</text>
<rect x="1.50" y="2.50" width="24.80" height="26.70" fill="#c00000"/>
<text x="0.00" y="21.50" class="pl" transform="translate(3.20 0) scale(0.8 1) translate(0.00 0)">(c )</text>
</g>
<clipPath id="clip_d"><polygon points="563.70,326.10 929.49,323.61 931.23,579.51 565.44,581.99"/></clipPath>
<g clip-path="url(#clip_d)"><g filter="url(#cmap)"><linearGradient id="d_bg" gradientUnits="userSpaceOnUse" x1="563" y1="0" x2="932" y2="0"><stop offset="0.000" stop-color="#878787"/><stop offset="0.160" stop-color="#858585"/><stop offset="0.500" stop-color="#7a7a7a"/><stop offset="0.760" stop-color="#6e6e6e"/><stop offset="0.860" stop-color="#636363"/><stop offset="1.000" stop-color="#545454"/></linearGradient>
<rect x="555" y="315" width="385" height="275" fill="url(#d_bg)"/>
<radialGradient id="d_wo" gradientUnits="userSpaceOnUse" cx="680" cy="400" r="200"><stop offset="0.000" stop-color="#949494" stop-opacity="0.600"/><stop offset="1.000" stop-color="#8f8f8f" stop-opacity="0.000"/></radialGradient>
<rect x="555" y="315" width="385" height="275" fill="url(#d_wo)"/>
<clipPath id="d_clip"><polygon points="622.70,351.80 844.00,351.80 844.00,500.80 784.00,500.80 784.00,558.40 622.70,558.40"/></clipPath>
<radialGradient id="d_in" gradientUnits="userSpaceOnUse" cx="665" cy="395" r="270"><stop offset="0.000" stop-color="#aaaaaa"/><stop offset="0.300" stop-color="#a1a1a1"/><stop offset="0.600" stop-color="#989898"/><stop offset="1.000" stop-color="#8e8e8e"/></radialGradient>
<polygon points="622.70,351.80 844.00,351.80 844.00,500.80 784.00,500.80 784.00,558.40 622.70,558.40" fill="url(#d_in)" filter="url(#bl06)"/>
<g clip-path="url(#d_clip)">
<radialGradient id="d_hot" gradientUnits="userSpaceOnUse" cx="660" cy="386" r="110"><stop offset="0.000" stop-color="#fcfcfc" stop-opacity="1.000"/><stop offset="0.200" stop-color="#fbfbfb" stop-opacity="1.000"/><stop offset="0.240" stop-color="#f2f2f2" stop-opacity="1.000"/><stop offset="0.300" stop-color="#e6e6e6" stop-opacity="1.000"/><stop offset="0.380" stop-color="#d6d6d6" stop-opacity="1.000"/><stop offset="0.460" stop-color="#c7c7c7" stop-opacity="1.000"/><stop offset="0.550" stop-color="#bbbbbb" stop-opacity="1.000"/><stop offset="0.680" stop-color="#b0b0b0" stop-opacity="0.800"/><stop offset="1.000" stop-color="#a6a6a6" stop-opacity="0.000"/></radialGradient>
<circle cx="660" cy="386" r="110" fill="url(#d_hot)"/>
</g>
<g filter="url(#bl06)" fill="none" stroke-width="1.8">
<line x1="626" y1="351.4" x2="844" y2="351.4" stroke="#545454"/>
<line x1="622.5" y1="354" x2="622.5" y2="558" stroke="#666666"/>
<line x1="844.2" y1="353" x2="844.2" y2="501" stroke="#999999"/>
<polyline points="623,558.6 784,558.6 784,500.8 844.5,500.8" stroke="#a8a8a8"/>
</g>
<path d="M622 407.2H660.3A22 22 0 0 0 682.3 385.2V353" fill="none" stroke="#fbfbfb" stroke-width="6" filter="url(#bl06)"/>
<path d="M624.80 353.70H682.30V385.20A22.00 22.00 0 0 1 660.30 407.20H624.80Z" fill="#a3a3a3" filter="url(#bl06)"/>
<ellipse cx="647.7" cy="364.8" rx="3.0" ry="2.5" fill="#c2c2c2" filter="url(#bl06)"/>
<ellipse cx="647.7" cy="364.8" rx="2.1" ry="1.6" fill="#ededed"/>
<ellipse cx="655.3" cy="362.9" rx="2.9" ry="2.4" fill="#c2c2c2" filter="url(#bl06)"/>
<ellipse cx="655.3" cy="362.9" rx="2.0" ry="1.5" fill="#ededed"/>
<ellipse cx="661.1" cy="364.8" rx="3.1" ry="2.6" fill="#c2c2c2" filter="url(#bl06)"/>
<ellipse cx="661.1" cy="364.8" rx="2.2" ry="1.7" fill="#ededed"/>
<ellipse cx="664.9" cy="359.1" rx="2.9" ry="2.4" fill="#c2c2c2" filter="url(#bl06)"/>
<ellipse cx="664.9" cy="359.1" rx="2.0" ry="1.5" fill="#ededed"/>
<ellipse cx="672.5" cy="359.1" rx="3.0" ry="2.5" fill="#c2c2c2" filter="url(#bl06)"/>
<ellipse cx="672.5" cy="359.1" rx="2.1" ry="1.6" fill="#ededed"/>
<ellipse cx="676.3" cy="364.8" rx="3.1" ry="2.6" fill="#c2c2c2" filter="url(#bl06)"/>
<ellipse cx="676.3" cy="364.8" rx="2.2" ry="1.7" fill="#ededed"/>
<ellipse cx="651.5" cy="372.4" rx="2.9" ry="2.4" fill="#c2c2c2" filter="url(#bl06)"/>
<ellipse cx="651.5" cy="372.4" rx="2.0" ry="1.5" fill="#ededed"/>
<ellipse cx="657.3" cy="377.2" rx="3.0" ry="2.5" fill="#c2c2c2" filter="url(#bl06)"/>
<ellipse cx="657.3" cy="377.2" rx="2.1" ry="1.6" fill="#ededed"/>
<ellipse cx="663.0" cy="370.5" rx="2.9" ry="2.4" fill="#c2c2c2" filter="url(#bl06)"/>
<ellipse cx="663.0" cy="370.5" rx="2.0" ry="1.5" fill="#ededed"/>
<ellipse cx="666.8" cy="380.1" rx="3.0" ry="2.5" fill="#c2c2c2" filter="url(#bl06)"/>
<ellipse cx="666.8" cy="380.1" rx="2.1" ry="1.6" fill="#ededed"/>
<ellipse cx="657.3" cy="385.8" rx="2.9" ry="2.4" fill="#c2c2c2" filter="url(#bl06)"/>
<ellipse cx="657.3" cy="385.8" rx="2.0" ry="1.5" fill="#ededed"/>
<ellipse cx="653.4" cy="391.5" rx="3.0" ry="2.5" fill="#c2c2c2" filter="url(#bl06)"/>
<ellipse cx="653.4" cy="391.5" rx="2.1" ry="1.6" fill="#ededed"/>
<ellipse cx="661.1" cy="393.4" rx="2.9" ry="2.4" fill="#c2c2c2" filter="url(#bl06)"/>
<ellipse cx="661.1" cy="393.4" rx="2.0" ry="1.5" fill="#ededed"/>
<ellipse cx="664.9" cy="397.3" rx="3.0" ry="2.5" fill="#c2c2c2" filter="url(#bl06)"/>
<ellipse cx="664.9" cy="397.3" rx="2.1" ry="1.6" fill="#ededed"/>
<ellipse cx="670.6" cy="387.7" rx="2.9" ry="2.4" fill="#c2c2c2" filter="url(#bl06)"/>
<ellipse cx="670.6" cy="387.7" rx="2.0" ry="1.5" fill="#ededed"/>
<ellipse cx="674.4" cy="383.9" rx="3.0" ry="2.5" fill="#c2c2c2" filter="url(#bl06)"/>
<ellipse cx="674.4" cy="383.9" rx="2.1" ry="1.6" fill="#ededed"/>
<ellipse cx="645.8" cy="378.2" rx="2.7" ry="2.3" fill="#c2c2c2" filter="url(#bl06)"/>
<ellipse cx="645.8" cy="378.2" rx="1.8" ry="1.4" fill="#ededed"/>
<ellipse cx="642.0" cy="370.5" rx="2.9" ry="2.4" fill="#c2c2c2" filter="url(#bl06)"/>
<ellipse cx="642.0" cy="370.5" rx="2.0" ry="1.5" fill="#ededed"/>
<ellipse cx="675.4" cy="374.4" rx="2.9" ry="2.4" fill="#c2c2c2" filter="url(#bl06)"/>
<ellipse cx="675.4" cy="374.4" rx="2.0" ry="1.5" fill="#ededed"/>
<ellipse cx="678.2" cy="393.4" rx="2.7" ry="2.3" fill="#c2c2c2" filter="url(#bl06)"/>
<ellipse cx="678.2" cy="393.4" rx="1.8" ry="1.4" fill="#ededed"/>
<circle cx="639" cy="366.7" r="4.2" fill="#fafafa" filter="url(#bl06)"/>
<circle cx="669.7" cy="373.4" r="3.4" fill="#f7f7f7" filter="url(#bl06)"/>
<linearGradient id="d_pad" gradientUnits="userSpaceOnUse" x1="800" y1="518" x2="842" y2="558"><stop offset="0.000" stop-color="#5c5c5c"/><stop offset="0.500" stop-color="#666666"/><stop offset="1.000" stop-color="#808080"/></linearGradient>
<rect x="793.5" y="513.1" width="51" height="47" fill="url(#d_pad)" filter="url(#bl1)"/>
<line x1="793.5" y1="513.3" x2="844.5" y2="513.3" stroke="#333333" stroke-width="2" filter="url(#bl06)"/>
<line x1="793.8" y1="514" x2="793.8" y2="558" stroke="#454545" stroke-width="1.8" filter="url(#bl06)"/>
<line x1="844.8" y1="516" x2="844.8" y2="556" stroke="#9e9e9e" stroke-width="1.6" filter="url(#bl06)"/>
<ellipse cx="833" cy="544" rx="13" ry="7" transform="rotate(-35 833 544)" fill="#b2b2b2" filter="url(#bl3)"/>
<ellipse cx="834" cy="543" rx="8" ry="3.5" transform="rotate(-35 834 543)" fill="#dbdbdb" filter="url(#bl1)"/>
<ellipse cx="829.8" cy="546" rx="4.8" ry="3.2" transform="rotate(-35 829.8 546)" fill="#fbfbfb" filter="url(#bl06)"/>
<circle cx="817" cy="524.5" r="1.3" fill="#b2b2b2" filter="url(#bl06)"/>
<line x1="795" y1="561" x2="836" y2="561" stroke="#b2b2b2" stroke-width="1.6" filter="url(#bl06)"/>
<rect x="563" y="503" width="8" height="45" fill="#5c5c5c" filter="url(#bl06)"/>
<g filter="url(#bl06)" fill="none" stroke-width="1.6">
<polyline points="570.5,365 570.5,489 565,489" stroke="#999999"/>
<line x1="563" y1="501.5" x2="571" y2="501.5" stroke="#333333" stroke-width="2"/>
<polyline points="571.5,503 571.5,548 563,548" stroke="#a8a8a8"/>
</g></g></g>
<g transform="translate(563.70 326.10) rotate(-0.3896)">
<path d="M24.72 255.90v-3.00M24.72 0v3.00M49.43 255.90v-5.50M49.43 0v5.50M74.15 255.90v-3.00M74.15 0v3.00M98.86 255.90v-5.50M98.86 0v5.50M123.58 255.90v-3.00M123.58 0v3.00M148.30 255.90v-5.50M148.30 0v5.50M173.01 255.90v-3.00M173.01 0v3.00M197.73 255.90v-5.50M197.73 0v5.50M222.45 255.90v-3.00M222.45 0v3.00M247.16 255.90v-5.50M247.16 0v5.50M271.88 255.90v-3.00M271.88 0v3.00M296.59 255.90v-5.50M296.59 0v5.50M321.31 255.90v-3.00M321.31 0v3.00M346.03 255.90v-5.50M346.03 0v5.50M0 23.15h3.00M365.80 23.15h-3.00M0 46.30h5.50M365.80 46.30h-5.50M0 69.45h3.00M365.80 69.45h-3.00M0 92.60h5.50M365.80 92.60h-5.50M0 115.75h3.00M365.80 115.75h-3.00M0 138.90h5.50M365.80 138.90h-5.50M0 162.05h3.00M365.80 162.05h-3.00M0 185.20h5.50M365.80 185.20h-5.50M0 208.35h3.00M365.80 208.35h-3.00M0 231.50h5.50M365.80 231.50h-5.50M0 254.65h3.00M365.80 254.65h-3.00" stroke="#000" stroke-width="1.2" fill="none"/>
<rect x="0" y="0" width="365.80" height="255.90" fill="none" stroke="#000" stroke-width="1.4"/>
<text transform="translate(0.00 274.40) scale(0.96 1)" text-anchor="middle" class="tl">0</text>
<text transform="translate(49.43 274.40) scale(0.96 1)" text-anchor="middle" class="tl">100</text>
<text transform="translate(98.86 274.40) scale(0.96 1)" text-anchor="middle" class="tl">200</text>
<text transform="translate(148.30 274.40) scale(0.96 1)" text-anchor="middle" class="tl">300</text>
<text transform="translate(197.73 274.40) scale(0.96 1)" text-anchor="middle" class="tl">400</text>
<text transform="translate(247.16 274.40) scale(0.96 1)" text-anchor="middle" class="tl">500</text>
<text transform="translate(296.59 274.40) scale(0.96 1)" text-anchor="middle" class="tl">600</text>
<text transform="translate(346.03 274.40) scale(0.96 1)" text-anchor="middle" class="tl">700</text>
<text transform="translate(-0.90 5.10) scale(0.96 1)" text-anchor="end" class="tl">0</text>
<text transform="translate(-0.90 51.40) scale(0.96 1)" text-anchor="end" class="tl">100</text>
<text transform="translate(-0.90 97.70) scale(0.96 1)" text-anchor="end" class="tl">200</text>
<text transform="translate(-0.90 144.00) scale(0.96 1)" text-anchor="end" class="tl">300</text>
<text transform="translate(-0.90 190.30) scale(0.96 1)" text-anchor="end" class="tl">400</text>
<text transform="translate(-0.90 236.60) scale(0.96 1)" text-anchor="end" class="tl">500</text>
<text transform="translate(184.90 291.20) scale(1.000 1)" text-anchor="middle" class="at">X - position [<tspan font-weight="normal">μ</tspan>m]</text>
<text transform="translate(-40.70 137.00) rotate(-90)" text-anchor="middle" class="at2">Y - position [<tspan font-weight="normal">μ</tspan>m]</text>
<rect x="374.00" y="32.20" width="20.40" height="218.80" fill="url(#cbg)"/>
<text x="376.60" y="18.00" class="ct">T [<tspan class="sup" dy="-6">o</tspan><tspan dy="6">C]</tspan></text>
<text x="397.20" y="39.05" class="cl">70.0</text>
<text x="397.20" y="104.05" class="cl">56.6</text>
<text x="397.20" y="181.15" class="cl">40.8</text>
<text x="397.20" y="259.05" class="cl">25.0</text>
<rect x="3.90" y="2.60" width="26.10" height="25.70" fill="#c00000"/>
<text x="0.00" y="20.60" class="pl" transform="translate(5.60 0) scale(0.8 1) translate(0.00 0)">(d )</text>
</g>
</svg></body></html>
